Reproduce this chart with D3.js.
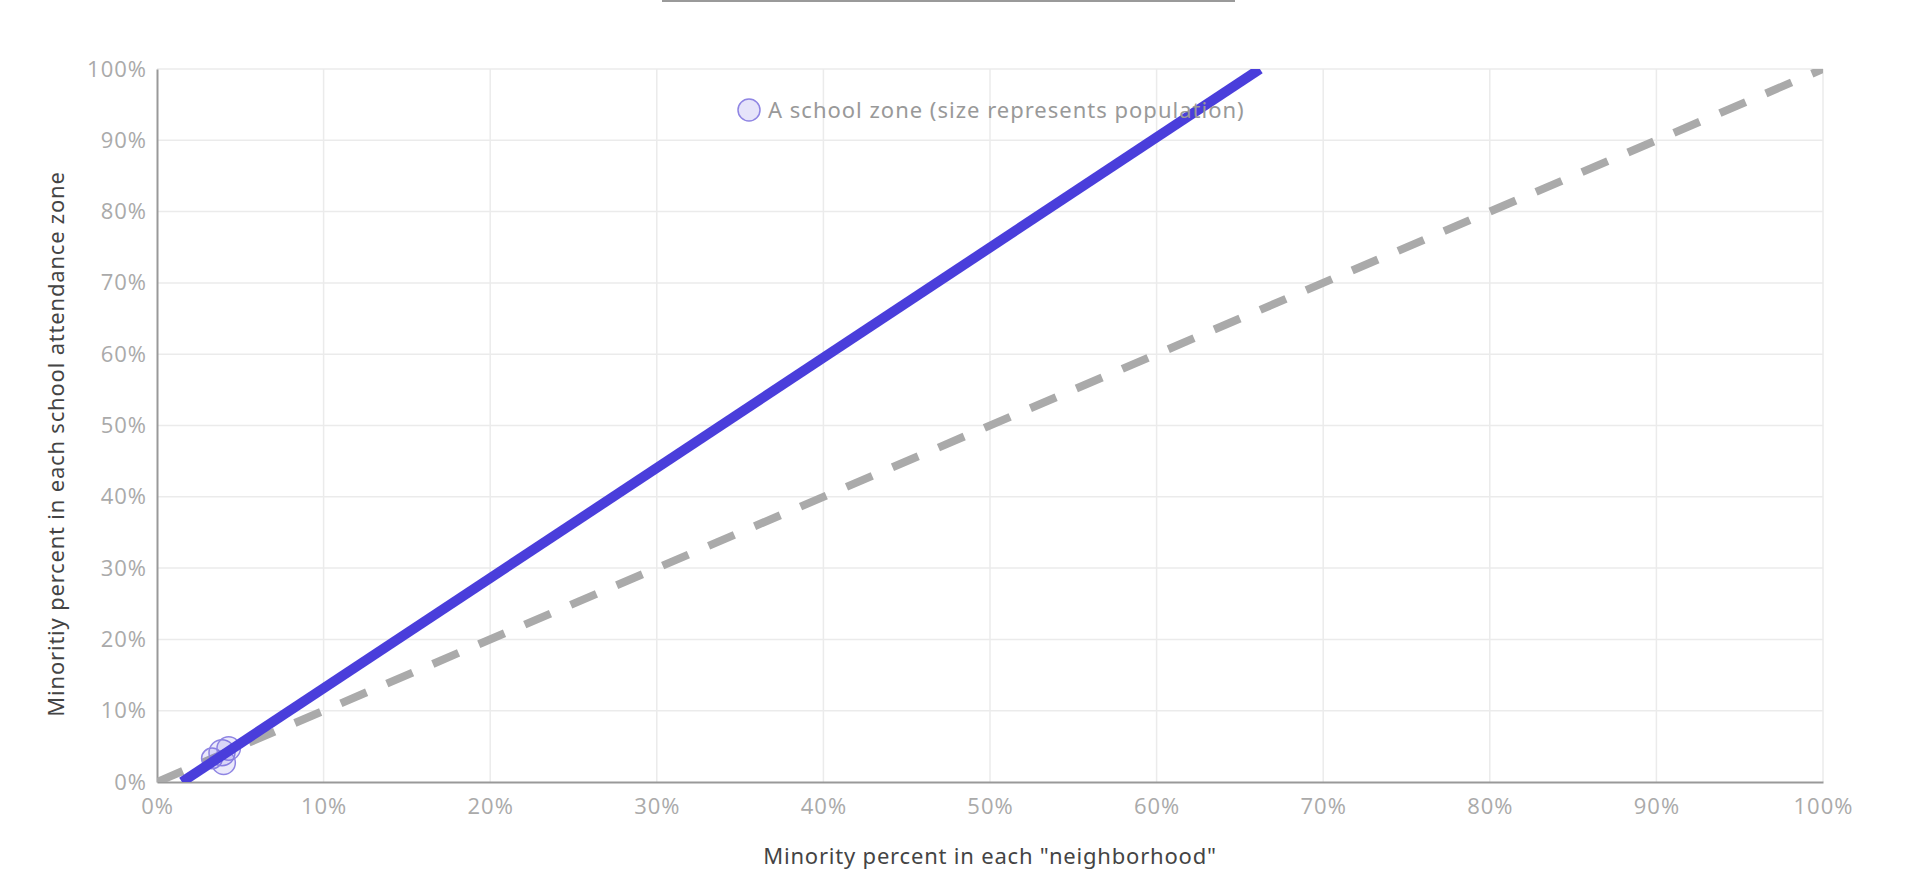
<!DOCTYPE html>
<html>
<head>
<meta charset="utf-8">
<script src="https://cdn.jsdelivr.net/npm/d3@7"></script>
<style>
  html, body { margin: 0; padding: 0; background: #fff; }
  .tick text { font-family: "Open Sans", sans-serif; font-size: 22px; letter-spacing: 1px; fill: #aaa; }
  .axis-title { font-family: "Noto Sans", sans-serif; font-size: 22px; letter-spacing: 0.8px; fill: #444; }
  .legend-text { font-family: "Noto Sans", sans-serif; font-size: 22px; letter-spacing: 1px; fill: #999; }
</style>
</head>
<body>
<svg class="chart"></svg>
<script>
// values (percent)
var xTicks = [0, 10, 20, 30, 40, 50, 60, 70, 80, 90, 100];
var yTicks = [0, 10, 20, 30, 40, 50, 60, 70, 80, 90, 100];
var zoneX = [3.3, 3.9, 4.3, 4.0];
var zoneY = [3.3, 4.1, 4.7, 2.7];
var zonePop = [640, 1000, 810, 810];
var trendX = [1.5, 66.2];
var trendY = [0, 100];
var equalX = [0, 100];
var equalY = [0, 100];

var W = 1920, H = 895;
var margin = {top: 69, right: 97, bottom: 113, left: 157};
var width = W - margin.left - margin.right,
    height = H - margin.top - margin.bottom;

var svg = d3.select(".chart").attr("width", W).attr("height", H);

// bit of a control cut off at the top of the page
svg.append("rect")
    .attr("x", 662).attr("y", 0)
    .attr("width", 573).attr("height", 2)
    .attr("fill", "#9a9a9a");

var chart = svg.append("g")
    .attr("transform", "translate(" + margin.left + "," + margin.top + ")");

var x = d3.scaleLinear().domain([0, 100]).range([0, width]);
var y = d3.scaleLinear().domain([0, 100]).range([height, 0]);
var r = d3.scaleSqrt().domain([0, d3.max(zonePop)]).range([0, 13]);

chart.append("defs").append("clipPath").attr("id", "plot")
  .append("rect").attr("width", width).attr("height", height);

// grid
chart.append("g").selectAll("line").data(xTicks.slice(1)).enter().append("line")
    .attr("x1", function(d) { return x(d); }).attr("x2", function(d) { return x(d); })
    .attr("y1", 0).attr("y2", height)
    .attr("stroke", "#ebebeb").attr("stroke-width", 1.5);
chart.append("g").selectAll("line").data(yTicks.slice(1)).enter().append("line")
    .attr("y1", function(d) { return y(d); }).attr("y2", function(d) { return y(d); })
    .attr("x1", 0).attr("x2", width)
    .attr("stroke", "#ebebeb").attr("stroke-width", 1.5);

var xAxis = d3.axisBottom(x).tickValues(xTicks).tickSize(0).tickPadding(16)
    .tickFormat(function(d) { return d + "%"; });
var yAxis = d3.axisLeft(y).tickValues(yTicks).tickSize(0).tickPadding(10)
    .tickFormat(function(d) { return d + "%"; });

var gx = chart.append("g").attr("transform", "translate(0," + height + ")").call(xAxis);
var gy = chart.append("g").call(yAxis);
gx.select(".domain").attr("stroke", "#999").attr("stroke-width", 2);
gy.select(".domain").attr("stroke", "#999").attr("stroke-width", 2);
gx.selectAll(".tick text").attr("dy", "0.71em");

var plot = chart.append("g").attr("clip-path", "url(#plot)");

var line = d3.line()
    .x(function(d) { return x(d[0]); })
    .y(function(d) { return y(d[1]); });

plot.append("path")
    .datum(d3.zip(equalX, equalY))
    .attr("d", line)
    .attr("fill", "none")
    .attr("stroke", "#aaa")
    .attr("stroke-width", 8)
    .attr("stroke-dasharray", "28,22");

plot.selectAll(".zone")
    .data(d3.range(zoneX.length))
  .enter().append("circle")
    .attr("class", "zone")
    .attr("cx", function(i) { return x(zoneX[i]); })
    .attr("cy", function(i) { return y(zoneY[i]); })
    .attr("r", function(i) { return r(zonePop[i]); })
    .attr("fill", "rgba(90,75,220,0.12)")
    .attr("stroke", "#8f85e3")
    .attr("stroke-width", 1.5);

plot.append("path")
    .datum(d3.zip(trendX, trendY))
    .attr("d", line)
    .attr("fill", "none")
    .attr("stroke", "#4a3edb")
    .attr("stroke-width", 10);

// legend
var legend = chart.append("g").attr("transform", "translate(" + (749 - margin.left) + "," + (110 - margin.top) + ")");
legend.append("circle")
    .attr("r", 11)
    .attr("fill", "rgba(90,75,220,0.15)")
    .attr("stroke", "#8f85e3")
    .attr("stroke-width", 1.5);
legend.append("text")
    .attr("class", "legend-text")
    .attr("x", 19)
    .attr("dy", "0.35em")
    .text("A school zone (size represents population)");

// axis titles
svg.append("text")
    .attr("class", "axis-title")
    .attr("x", margin.left + width / 2)
    .attr("y", 856)
    .attr("text-anchor", "middle")
    .attr("dy", "0.35em")
    .text("Minority percent in each \"neighborhood\"");

svg.append("text")
    .attr("class", "axis-title")
    .attr("transform", "translate(56,444) rotate(-90)")
    .attr("text-anchor", "middle")
    .attr("dy", "0.35em")
    .text("Minoritiy percent in each school attendance zone");
</script>
</body>
</html>
